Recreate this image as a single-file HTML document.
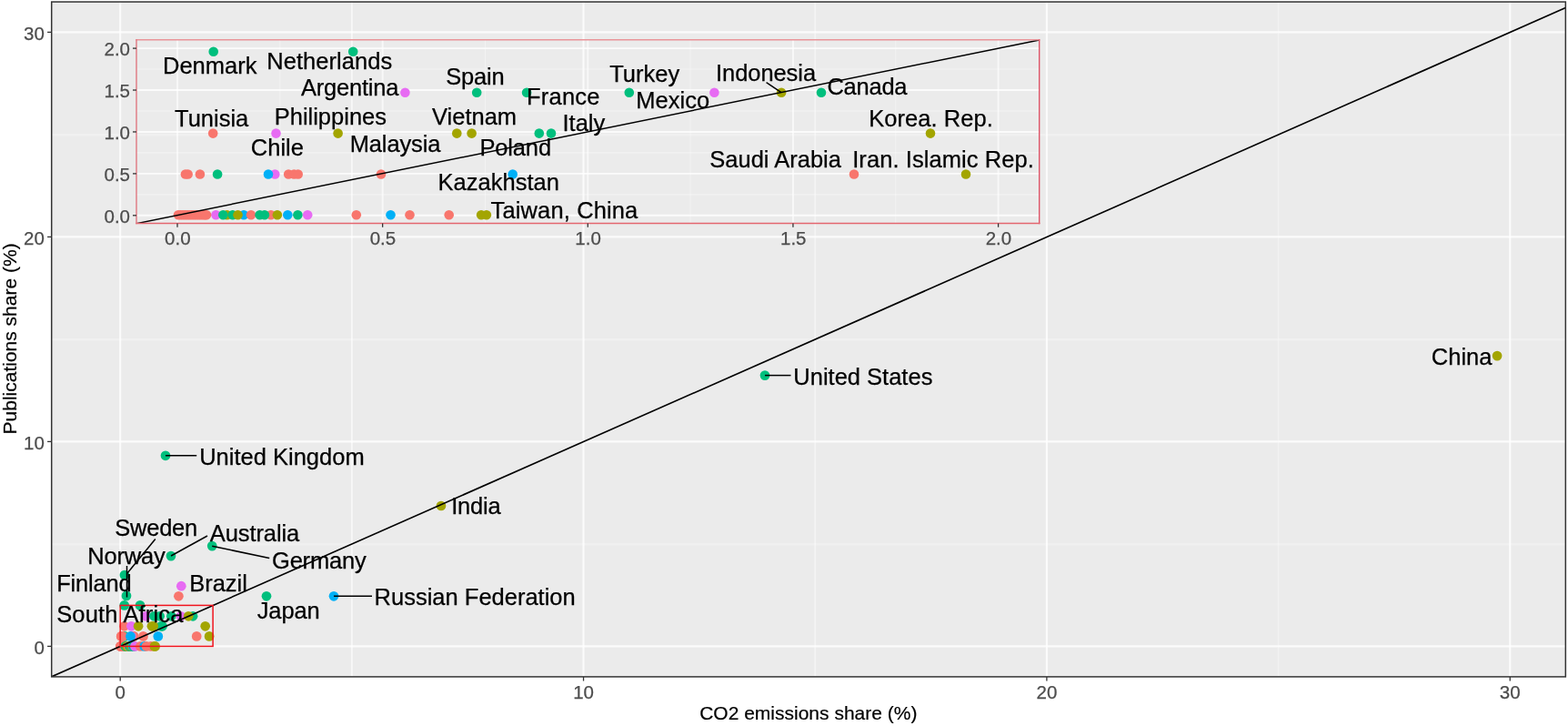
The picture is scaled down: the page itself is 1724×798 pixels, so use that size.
<!DOCTYPE html>
<html lang="en"><head><meta charset="utf-8"><title>CO2 emissions share vs publications share</title>
<style>
html,body{margin:0;padding:0;background:#fff;}
body{width:1724px;height:798px;overflow:hidden;}
svg{display:block;}
text{font-family:"Liberation Sans",Arial,Helvetica,sans-serif;}
.lab{font-size:25.5px;fill:#000;stroke:#000;stroke-width:0.25px;}
.tick{font-size:20.5px;fill:#4d4d4d;stroke:#4d4d4d;stroke-width:0.25px;}
.title{font-size:21px;fill:#000;stroke:#000;stroke-width:0.2px;}
</style></head><body>
<svg width="1724" height="798" viewBox="0 0 1724 798" role="img" aria-label="Scatter plot of CO2 emissions share versus publications share with zoomed inset">
<rect x="0" y="0" width="1724" height="798" fill="#ffffff"/>
<defs><clipPath id="cm"><rect x="56.7" y="2.05" width="1664.65" height="741.85"/></clipPath>
<clipPath id="ci"><rect x="150" y="44" width="992.7" height="201.5"/></clipPath></defs>
<rect x="56.7" y="2.05" width="1664.65" height="741.85" fill="#ebebeb"/>
<g clip-path="url(#cm)" stroke="#ffffff" fill="none">
<line x1="386.88" y1="2.05" x2="386.88" y2="743.9" stroke-width="1.8" stroke-opacity="0.65"/>
<line x1="56.7" y1="598.30" x2="1721.35" y2="598.30" stroke-width="2.4" stroke-opacity="0.25"/>
<line x1="896.23" y1="2.05" x2="896.23" y2="743.9" stroke-width="1.8" stroke-opacity="0.45"/>
<line x1="56.7" y1="373.30" x2="1721.35" y2="373.30" stroke-width="2.4" stroke-opacity="0.25"/>
<line x1="1405.58" y1="2.05" x2="1405.58" y2="743.9" stroke-width="1.8" stroke-opacity="0.3"/>
<line x1="56.7" y1="148.30" x2="1721.35" y2="148.30" stroke-width="2.4" stroke-opacity="0.25"/>
<line x1="132.20" y1="2.05" x2="132.20" y2="743.9" stroke-width="2.1" stroke-opacity="0.8"/>
<line x1="56.7" y1="710.40" x2="1721.35" y2="710.40" stroke-width="2.1" stroke-opacity="0.8"/>
<line x1="641.55" y1="2.05" x2="641.55" y2="743.9" stroke-width="2.1" stroke-opacity="0.8"/>
<line x1="56.7" y1="485.40" x2="1721.35" y2="485.40" stroke-width="2.1" stroke-opacity="0.8"/>
<line x1="1150.90" y1="2.05" x2="1150.90" y2="743.9" stroke-width="2.1" stroke-opacity="0.8"/>
<line x1="56.7" y1="260.40" x2="1721.35" y2="260.40" stroke-width="2.1" stroke-opacity="0.8"/>
<line x1="1660.25" y1="2.05" x2="1660.25" y2="743.9" stroke-width="2.1" stroke-opacity="0.8"/>
<line x1="56.7" y1="35.40" x2="1721.35" y2="35.40" stroke-width="2.1" stroke-opacity="0.8"/>
</g>
<g clip-path="url(#cm)">
<circle cx="137.0" cy="710.4" r="5.35" fill="#E76BF3"/>
<circle cx="132.3" cy="710.4" r="5.35" fill="#F8766D"/>
<circle cx="132.6" cy="710.4" r="5.35" fill="#F8766D"/>
<circle cx="132.9" cy="710.4" r="5.35" fill="#F8766D"/>
<circle cx="133.2" cy="710.4" r="5.35" fill="#F8766D"/>
<circle cx="133.4" cy="710.4" r="5.35" fill="#F8766D"/>
<circle cx="133.7" cy="710.4" r="5.35" fill="#F8766D"/>
<circle cx="134.0" cy="710.4" r="5.35" fill="#F8766D"/>
<circle cx="134.3" cy="710.4" r="5.35" fill="#F8766D"/>
<circle cx="134.6" cy="710.4" r="5.35" fill="#F8766D"/>
<circle cx="134.9" cy="710.4" r="5.35" fill="#F8766D"/>
<circle cx="135.1" cy="710.4" r="5.35" fill="#F8766D"/>
<circle cx="135.4" cy="710.4" r="5.35" fill="#F8766D"/>
<circle cx="135.6" cy="710.4" r="5.35" fill="#F8766D"/>
<circle cx="135.8" cy="710.4" r="5.35" fill="#F8766D"/>
<circle cx="140.4" cy="710.4" r="5.35" fill="#00B0F6"/>
<circle cx="138.4" cy="710.4" r="5.35" fill="#A3A500"/>
<circle cx="137.9" cy="710.4" r="5.35" fill="#00BF7D"/>
<circle cx="139.1" cy="710.4" r="5.35" fill="#00BF7D"/>
<circle cx="139.7" cy="710.4" r="5.35" fill="#A3A500"/>
<circle cx="141.3" cy="710.4" r="5.35" fill="#F8766D"/>
<circle cx="143.8" cy="710.4" r="5.35" fill="#F8766D"/>
<circle cx="142.4" cy="710.4" r="5.35" fill="#00BF7D"/>
<circle cx="143.0" cy="710.4" r="5.35" fill="#00BF7D"/>
<circle cx="144.6" cy="710.4" r="5.35" fill="#A3A500"/>
<circle cx="145.9" cy="710.4" r="5.35" fill="#00B0F6"/>
<circle cx="147.1" cy="710.4" r="5.35" fill="#00BF7D"/>
<circle cx="148.4" cy="710.4" r="5.35" fill="#E76BF3"/>
<circle cx="154.4" cy="710.4" r="5.35" fill="#F8766D"/>
<circle cx="158.7" cy="710.4" r="5.35" fill="#00B0F6"/>
<circle cx="161.0" cy="710.4" r="5.35" fill="#F8766D"/>
<circle cx="165.9" cy="710.4" r="5.35" fill="#F8766D"/>
<circle cx="169.9" cy="710.4" r="5.35" fill="#A3A500"/>
<circle cx="170.6" cy="710.4" r="5.35" fill="#A3A500"/>
<circle cx="137.2" cy="699.4" r="5.35" fill="#00BF7D"/>
<circle cx="133.2" cy="699.4" r="5.35" fill="#F8766D"/>
<circle cx="133.5" cy="699.4" r="5.35" fill="#F8766D"/>
<circle cx="135.0" cy="699.4" r="5.35" fill="#F8766D"/>
<circle cx="146.0" cy="699.4" r="5.35" fill="#F8766D"/>
<circle cx="146.7" cy="699.4" r="5.35" fill="#F8766D"/>
<circle cx="147.2" cy="699.4" r="5.35" fill="#F8766D"/>
<circle cx="144.3" cy="699.4" r="5.35" fill="#E76BF3"/>
<circle cx="143.5" cy="699.4" r="5.35" fill="#00B0F6"/>
<circle cx="157.5" cy="699.4" r="5.35" fill="#F8766D"/>
<circle cx="173.8" cy="699.4" r="5.35" fill="#00B0F6"/>
<circle cx="216.2" cy="699.4" r="5.35" fill="#F8766D"/>
<circle cx="230.1" cy="699.4" r="5.35" fill="#A3A500"/>
<circle cx="136.6" cy="688.3" r="5.35" fill="#F8766D"/>
<circle cx="144.4" cy="688.3" r="5.35" fill="#E76BF3"/>
<circle cx="177.1" cy="688.3" r="5.35" fill="#00BF7D"/>
<circle cx="178.6" cy="688.3" r="5.35" fill="#00BF7D"/>
<circle cx="152.1" cy="688.3" r="5.35" fill="#A3A500"/>
<circle cx="166.9" cy="688.3" r="5.35" fill="#A3A500"/>
<circle cx="168.7" cy="688.3" r="5.35" fill="#A3A500"/>
<circle cx="225.7" cy="688.3" r="5.35" fill="#A3A500"/>
<circle cx="160.5" cy="677.3" r="5.35" fill="#E76BF3"/>
<circle cx="169.4" cy="677.3" r="5.35" fill="#00BF7D"/>
<circle cx="175.6" cy="677.3" r="5.35" fill="#00BF7D"/>
<circle cx="188.3" cy="677.3" r="5.35" fill="#00BF7D"/>
<circle cx="198.8" cy="677.3" r="5.35" fill="#E76BF3"/>
<circle cx="212.1" cy="677.3" r="5.35" fill="#00BF7D"/>
<circle cx="207.2" cy="677.3" r="5.35" fill="#A3A500"/>
<circle cx="136.7" cy="665.4" r="5.35" fill="#00BF7D"/>
<circle cx="154.0" cy="665.4" r="5.35" fill="#00BF7D"/>
<circle cx="136.9" cy="632.1" r="5.35" fill="#00BF7D"/>
<circle cx="139.0" cy="654.9" r="5.35" fill="#00BF7D"/>
<circle cx="196.4" cy="655.3" r="5.35" fill="#F8766D"/>
<circle cx="199.3" cy="644.2" r="5.35" fill="#E76BF3"/>
<circle cx="188.0" cy="611.1" r="5.35" fill="#00BF7D"/>
<circle cx="233.2" cy="600.1" r="5.35" fill="#00BF7D"/>
<circle cx="293.0" cy="655.3" r="5.35" fill="#00BF7D"/>
<circle cx="367.0" cy="655.3" r="5.35" fill="#00B0F6"/>
<circle cx="485.0" cy="556.0" r="5.35" fill="#A3A500"/>
<circle cx="182.0" cy="500.8" r="5.35" fill="#00BF7D"/>
<circle cx="841.0" cy="412.6" r="5.35" fill="#00BF7D"/>
<circle cx="1646.1" cy="391.1" r="5.35" fill="#A3A500"/>
<line x1="56.7" y1="743.8" x2="1721.35" y2="8.6" stroke="#000" stroke-width="1.65"/>
<rect x="132.2" y="665.4" width="101.9" height="45.0" fill="none" stroke="#f0141e" stroke-width="1.5"/>
</g>
<g clip-path="url(#ci)" stroke="#ffffff" fill="none">
<line x1="195.00" y1="44" x2="195.00" y2="245.5" stroke-width="1.9" stroke-opacity="0.65"/>
<line x1="150" y1="236.80" x2="1142.7" y2="236.80" stroke-width="1.9" stroke-opacity="0.8"/>
<line x1="307.82" y1="44" x2="307.82" y2="245.5" stroke-width="1.1" stroke-opacity="0.35"/>
<line x1="150" y1="213.84" x2="1142.7" y2="213.84" stroke-width="1.1" stroke-opacity="0.4"/>
<line x1="420.65" y1="44" x2="420.65" y2="245.5" stroke-width="1.9" stroke-opacity="0.65"/>
<line x1="150" y1="190.88" x2="1142.7" y2="190.88" stroke-width="1.9" stroke-opacity="0.8"/>
<line x1="533.48" y1="44" x2="533.48" y2="245.5" stroke-width="1.1" stroke-opacity="0.35"/>
<line x1="150" y1="167.91" x2="1142.7" y2="167.91" stroke-width="1.1" stroke-opacity="0.4"/>
<line x1="646.30" y1="44" x2="646.30" y2="245.5" stroke-width="1.9" stroke-opacity="0.65"/>
<line x1="150" y1="144.95" x2="1142.7" y2="144.95" stroke-width="1.9" stroke-opacity="0.8"/>
<line x1="759.12" y1="44" x2="759.12" y2="245.5" stroke-width="1.1" stroke-opacity="0.35"/>
<line x1="150" y1="121.99" x2="1142.7" y2="121.99" stroke-width="1.1" stroke-opacity="0.4"/>
<line x1="871.95" y1="44" x2="871.95" y2="245.5" stroke-width="1.9" stroke-opacity="0.65"/>
<line x1="150" y1="99.03" x2="1142.7" y2="99.03" stroke-width="1.9" stroke-opacity="0.8"/>
<line x1="984.77" y1="44" x2="984.77" y2="245.5" stroke-width="1.1" stroke-opacity="0.35"/>
<line x1="150" y1="76.06" x2="1142.7" y2="76.06" stroke-width="1.1" stroke-opacity="0.4"/>
<line x1="1097.60" y1="44" x2="1097.60" y2="245.5" stroke-width="1.9" stroke-opacity="0.65"/>
<line x1="150" y1="53.10" x2="1142.7" y2="53.10" stroke-width="1.9" stroke-opacity="0.8"/>
</g>
<g clip-path="url(#ci)">
<circle cx="237.4" cy="236.3" r="5.3" fill="#E76BF3"/>
<circle cx="196.0" cy="236.3" r="5.3" fill="#F8766D"/>
<circle cx="198.5" cy="236.3" r="5.3" fill="#F8766D"/>
<circle cx="201.0" cy="236.3" r="5.3" fill="#F8766D"/>
<circle cx="203.5" cy="236.3" r="5.3" fill="#F8766D"/>
<circle cx="206.0" cy="236.3" r="5.3" fill="#F8766D"/>
<circle cx="208.5" cy="236.3" r="5.3" fill="#F8766D"/>
<circle cx="211.0" cy="236.3" r="5.3" fill="#F8766D"/>
<circle cx="213.5" cy="236.3" r="5.3" fill="#F8766D"/>
<circle cx="216.0" cy="236.3" r="5.3" fill="#F8766D"/>
<circle cx="218.5" cy="236.3" r="5.3" fill="#F8766D"/>
<circle cx="221.0" cy="236.3" r="5.3" fill="#F8766D"/>
<circle cx="223.5" cy="236.3" r="5.3" fill="#F8766D"/>
<circle cx="225.5" cy="236.3" r="5.3" fill="#F8766D"/>
<circle cx="227.0" cy="236.3" r="5.3" fill="#F8766D"/>
<circle cx="268.0" cy="236.3" r="5.3" fill="#00B0F6"/>
<circle cx="249.6" cy="236.3" r="5.3" fill="#A3A500"/>
<circle cx="245.3" cy="236.3" r="5.3" fill="#00BF7D"/>
<circle cx="255.8" cy="236.3" r="5.3" fill="#00BF7D"/>
<circle cx="261.5" cy="236.3" r="5.3" fill="#A3A500"/>
<circle cx="276.0" cy="236.3" r="5.3" fill="#F8766D"/>
<circle cx="297.9" cy="236.3" r="5.3" fill="#F8766D"/>
<circle cx="285.6" cy="236.3" r="5.3" fill="#00BF7D"/>
<circle cx="290.9" cy="236.3" r="5.3" fill="#00BF7D"/>
<circle cx="304.9" cy="236.3" r="5.3" fill="#A3A500"/>
<circle cx="316.3" cy="236.3" r="5.3" fill="#00B0F6"/>
<circle cx="327.4" cy="236.3" r="5.3" fill="#00BF7D"/>
<circle cx="338.2" cy="236.3" r="5.3" fill="#E76BF3"/>
<circle cx="391.8" cy="236.3" r="5.3" fill="#F8766D"/>
<circle cx="429.5" cy="236.3" r="5.3" fill="#00B0F6"/>
<circle cx="450.5" cy="236.3" r="5.3" fill="#F8766D"/>
<circle cx="493.7" cy="236.3" r="5.3" fill="#F8766D"/>
<circle cx="529.1" cy="236.3" r="5.3" fill="#A3A500"/>
<circle cx="534.9" cy="236.3" r="5.3" fill="#A3A500"/>
<circle cx="239.1" cy="191.5" r="5.3" fill="#00BF7D"/>
<circle cx="203.9" cy="191.5" r="5.3" fill="#F8766D"/>
<circle cx="206.6" cy="191.5" r="5.3" fill="#F8766D"/>
<circle cx="219.9" cy="191.5" r="5.3" fill="#F8766D"/>
<circle cx="317.2" cy="191.5" r="5.3" fill="#F8766D"/>
<circle cx="323.3" cy="191.5" r="5.3" fill="#F8766D"/>
<circle cx="327.7" cy="191.5" r="5.3" fill="#F8766D"/>
<circle cx="302.3" cy="191.5" r="5.3" fill="#E76BF3"/>
<circle cx="295.0" cy="191.5" r="5.3" fill="#00B0F6"/>
<circle cx="419.0" cy="191.5" r="5.3" fill="#F8766D"/>
<circle cx="563.7" cy="191.5" r="5.3" fill="#00B0F6"/>
<circle cx="939.0" cy="191.5" r="5.3" fill="#F8766D"/>
<circle cx="1062.0" cy="191.5" r="5.3" fill="#A3A500"/>
<circle cx="234.2" cy="146.6" r="5.3" fill="#F8766D"/>
<circle cx="303.5" cy="146.6" r="5.3" fill="#E76BF3"/>
<circle cx="592.8" cy="146.6" r="5.3" fill="#00BF7D"/>
<circle cx="606.0" cy="146.6" r="5.3" fill="#00BF7D"/>
<circle cx="371.6" cy="146.6" r="5.3" fill="#A3A500"/>
<circle cx="502.3" cy="146.6" r="5.3" fill="#A3A500"/>
<circle cx="518.6" cy="146.6" r="5.3" fill="#A3A500"/>
<circle cx="1023.0" cy="146.6" r="5.3" fill="#A3A500"/>
<circle cx="445.4" cy="101.7" r="5.3" fill="#E76BF3"/>
<circle cx="524.2" cy="101.7" r="5.3" fill="#00BF7D"/>
<circle cx="579.1" cy="101.7" r="5.3" fill="#00BF7D"/>
<circle cx="691.8" cy="101.7" r="5.3" fill="#00BF7D"/>
<circle cx="785.4" cy="101.7" r="5.3" fill="#E76BF3"/>
<circle cx="903.0" cy="101.7" r="5.3" fill="#00BF7D"/>
<circle cx="859.1" cy="101.7" r="5.3" fill="#A3A500"/>
<circle cx="234.7" cy="56.8" r="5.3" fill="#00BF7D"/>
<circle cx="388.2" cy="56.8" r="5.3" fill="#00BF7D"/>
<line x1="150" y1="245.7" x2="1142.7" y2="44" stroke="#000" stroke-width="1.5"/>
</g>
<g stroke="#000" stroke-width="1.5" fill="none">
<line x1="842.6" y1="90.6" x2="859" y2="101.6"/>
</g>
<g class="lab">
<text x="179" y="81.2">Denmark</text>
<text x="293.2" y="75.8" style="letter-spacing:0.060px">Netherlands</text>
<text x="331" y="105.2" style="letter-spacing:-0.225px">Argentina</text>
<text x="490.2" y="93.1" style="letter-spacing:-0.175px">Spain</text>
<text x="670.2" y="89.6">Turkey</text>
<text x="787" y="88.6" style="letter-spacing:-0.062px">Indonesia</text>
<text x="909.4" y="104.2" style="letter-spacing:-0.240px">Canada</text>
<text x="579" y="114.8" style="letter-spacing:0.220px">France</text>
<text x="699.3" y="119.4">Mexico</text>
<text x="192" y="139.2">Tunisia</text>
<text x="301.7" y="137.4">Philippines</text>
<text x="475" y="137.2">Vietnam</text>
<text x="618.5" y="144.2">Italy</text>
<text x="955.2" y="139.2" style="letter-spacing:0.050px">Korea. Rep.</text>
<text x="275.8" y="171.3">Chile</text>
<text x="384.7" y="167.3" style="letter-spacing:-0.129px">Malaysia</text>
<text x="527.4" y="170.7" style="letter-spacing:-0.140px">Poland</text>
<text x="780.3" y="184.2">Saudi Arabia</text>
<text x="937.2" y="184.4" style="letter-spacing:0.071px">Iran. Islamic Rep.</text>
<text x="481.6" y="208.8">Kazakhstan</text>
<text x="539.6" y="239.8" style="letter-spacing:0.125px">Taiwan, China</text>
</g>
<g fill="none" stroke-width="1.4" stroke-linecap="square">
<line x1="150" y1="43.8" x2="1142.7" y2="43.8" stroke="#e99499"/>
<line x1="1142.7" y1="44" x2="1142.7" y2="245.5" stroke="#de5468"/>
<line x1="150" y1="245.5" x2="1142.7" y2="245.5" stroke="#e4666f"/>
<line x1="150" y1="44" x2="150" y2="245.5" stroke="#e07780"/>
</g>
<g stroke="#333333" stroke-width="1.3">
<line x1="195.00" y1="245.5" x2="195.00" y2="249.7"/>
<line x1="146" y1="236.80" x2="150" y2="236.80"/>
<line x1="420.65" y1="245.5" x2="420.65" y2="249.7"/>
<line x1="146" y1="190.88" x2="150" y2="190.88"/>
<line x1="646.30" y1="245.5" x2="646.30" y2="249.7"/>
<line x1="146" y1="144.95" x2="150" y2="144.95"/>
<line x1="871.95" y1="245.5" x2="871.95" y2="249.7"/>
<line x1="146" y1="99.03" x2="150" y2="99.03"/>
<line x1="1097.60" y1="245.5" x2="1097.60" y2="249.7"/>
<line x1="146" y1="53.10" x2="150" y2="53.10"/>
</g>
<g class="tick">
<text x="195.30" y="268.8" text-anchor="middle">0.0</text>
<text x="143" y="244.50" text-anchor="end">0.0</text>
<text x="420.95" y="268.8" text-anchor="middle">0.5</text>
<text x="143" y="199.07" text-anchor="end">0.5</text>
<text x="646.60" y="268.8" text-anchor="middle">1.0</text>
<text x="143" y="153.15" text-anchor="end">1.0</text>
<text x="872.25" y="268.8" text-anchor="middle">1.5</text>
<text x="143" y="107.23" text-anchor="end">1.5</text>
<text x="1097.90" y="268.8" text-anchor="middle">2.0</text>
<text x="143" y="61.30" text-anchor="end">2.0</text>
</g>
<g stroke="#000" stroke-width="1.5" fill="none">
<line x1="841" y1="412.6" x2="869.5" y2="412.6"/>
<line x1="182" y1="500.8" x2="216.2" y2="500.8"/>
<line x1="367" y1="655.3" x2="409" y2="655.3"/>
<line x1="233.2" y1="600.2" x2="296.2" y2="613.6"/>
<line x1="188" y1="611" x2="228" y2="589"/>
<line x1="139.6" y1="630.4" x2="170.8" y2="592.4"/>
<line x1="139.5" y1="622" x2="139.5" y2="656.5"/>
</g>
<g class="lab">
<text x="1573.8" y="400.9">China</text>
<text x="872.3" y="422.5">United States</text>
<text x="219.2" y="510.8">United Kingdom</text>
<text x="496.2" y="564.9" style="letter-spacing:-0.200px">India</text>
<text x="126.2" y="589.2" style="letter-spacing:-0.220px">Sweden</text>
<text x="230.8" y="595" style="letter-spacing:-0.100px">Australia</text>
<text x="96.3" y="619.6" style="letter-spacing:-0.220px">Norway</text>
<text x="299" y="624.9" style="letter-spacing:-0.200px">Germany</text>
<text x="62.2" y="650.1" style="letter-spacing:-0.183px">Finland</text>
<text x="208.2" y="650.3">Brazil</text>
<text x="62.2" y="683.8" style="letter-spacing:0.155px">South Africa</text>
<text x="282.7" y="680.1" style="letter-spacing:-0.100px">Japan</text>
<text x="411.6" y="665.2">Russian Federation</text>
</g>
<rect x="56.7" y="2.05" width="1664.65" height="741.85" fill="none" stroke="#333333" stroke-width="1.5"/>
<g stroke="#333333" stroke-width="1.3">
<line x1="132.20" y1="743.9" x2="132.20" y2="748.5"/>
<line x1="52.1" y1="710.40" x2="56.7" y2="710.40"/>
<line x1="641.55" y1="743.9" x2="641.55" y2="748.5"/>
<line x1="52.1" y1="485.40" x2="56.7" y2="485.40"/>
<line x1="1150.90" y1="743.9" x2="1150.90" y2="748.5"/>
<line x1="52.1" y1="260.40" x2="56.7" y2="260.40"/>
<line x1="1660.25" y1="743.9" x2="1660.25" y2="748.5"/>
<line x1="52.1" y1="35.40" x2="56.7" y2="35.40"/>
</g>
<g class="tick">
<text x="132.20" y="768.3" text-anchor="middle">0</text>
<text x="48.8" y="718.50" text-anchor="end">0</text>
<text x="641.55" y="768.3" text-anchor="middle">10</text>
<text x="48.8" y="493.50" text-anchor="end">10</text>
<text x="1150.90" y="768.3" text-anchor="middle">20</text>
<text x="48.8" y="268.50" text-anchor="end">20</text>
<text x="1660.25" y="768.3" text-anchor="middle">30</text>
<text x="48.8" y="43.50" text-anchor="end">30</text>
</g>
<text class="title" x="888.8" y="791.3" text-anchor="middle">CO2 emissions share (%)</text>
<text class="title" transform="translate(17.9,372.4) rotate(-90)" text-anchor="middle">Publications share (%)</text>
</svg>
</body></html>
